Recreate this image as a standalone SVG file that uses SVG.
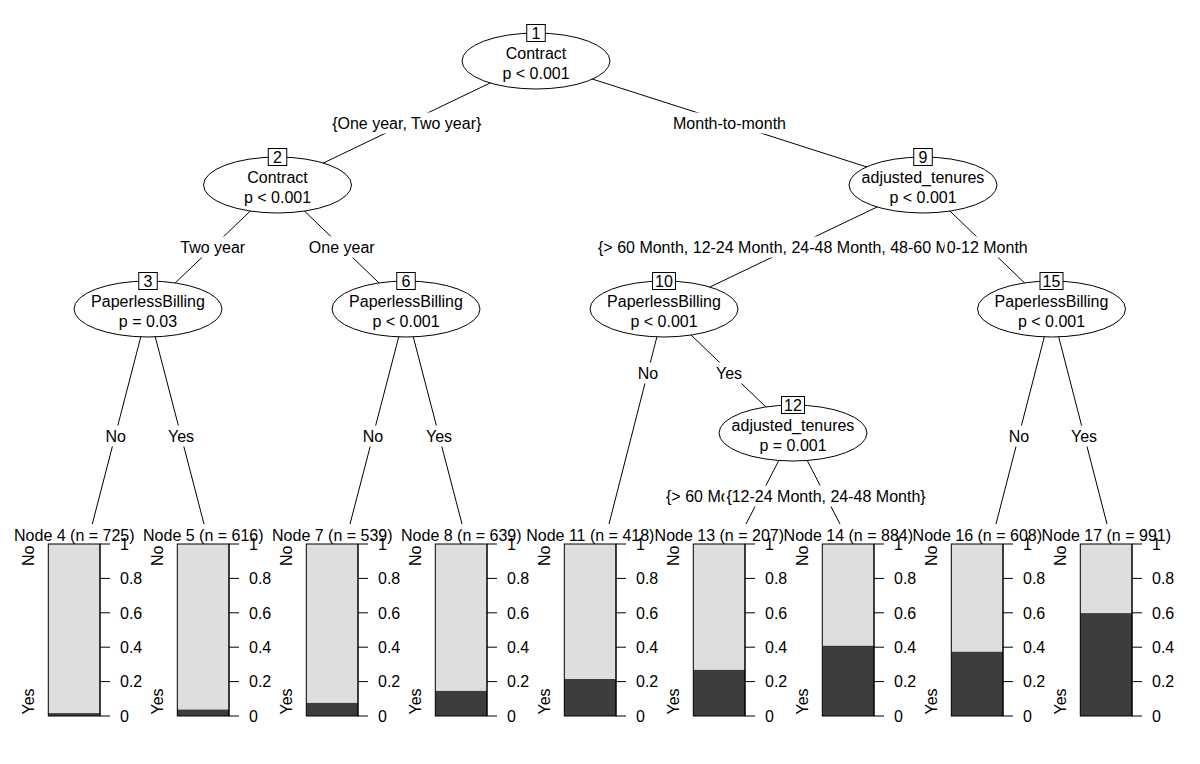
<svg xmlns="http://www.w3.org/2000/svg" xmlns:xlink="http://www.w3.org/1999/xlink" width="1200" height="764" viewBox="0 0 1200 764">
<style>
text{font-family:"Liberation Sans",Arial,Helvetica,sans-serif;font-size:16px;fill:#000}
.m{text-anchor:middle}
.s{text-anchor:start}
.e{text-anchor:end}
.edge{stroke:#000;stroke-width:1;fill:none}
.lb{fill:#fff;stroke:none}
.ell{fill:#fff;stroke:#000;stroke-width:1}
.box{fill:#fff;stroke:#000;stroke-width:1}
.lt{fill:#DEDEDE;stroke:none}
.dk{fill:#3D3D3D;stroke:none}
.fr{fill:none;stroke:#000;stroke-width:1}
.ax{fill:none;stroke:#000;stroke-width:1}
</style>
<defs>
<path id="ticks" class="ax" d="M51.7 544V716M51.7 716h10M51.7 681.6h10M51.7 647.2h10M51.7 612.8h10M51.7 578.4h10M51.7 544h10"/>
</defs>
<rect x="0" y="0" width="1200" height="764" fill="#fff"/>
<g id="connectors">
<line class="edge" x1="536" y1="61" x2="277.5" y2="185"/>
<line class="edge" x1="536" y1="61" x2="923" y2="185"/>
<line class="edge" x1="277.5" y1="185" x2="148" y2="309"/>
<line class="edge" x1="277.5" y1="185" x2="406" y2="309"/>
<line class="edge" x1="923" y1="185" x2="664" y2="309"/>
<line class="edge" x1="923" y1="185" x2="1051.5" y2="309"/>
<line class="edge" x1="148" y1="309" x2="92.3" y2="524"/>
<line class="edge" x1="148" y1="309" x2="204" y2="524"/>
<line class="edge" x1="406" y1="309" x2="350" y2="524"/>
<line class="edge" x1="406" y1="309" x2="462" y2="524"/>
<line class="edge" x1="664" y1="309" x2="609" y2="524"/>
<line class="edge" x1="664" y1="309" x2="793" y2="433"/>
<line class="edge" x1="793" y1="433" x2="746" y2="524"/>
<line class="edge" x1="793" y1="433" x2="840" y2="524"/>
<line class="edge" x1="1051.5" y1="309" x2="996" y2="524"/>
<line class="edge" x1="1051.5" y1="309" x2="1107" y2="524"/>
<g id="edge-labels">
<rect class="lb" x="329" y="112.5" width="155.5" height="21"/>
<text class="m" x="406.75" y="129">{One year, Two year}</text>
<rect class="lb" x="671" y="112.5" width="117" height="21"/>
<text class="m" x="729.5" y="129">Month-to-month</text>
<rect class="lb" x="177.8" y="236.5" width="70" height="21"/>
<text class="m" x="212.75" y="253">Two year</text>
<rect class="lb" x="306.8" y="236.5" width="70" height="21"/>
<text class="m" x="341.75" y="253">One year</text>
<rect class="lb" x="596" y="236.5" width="355" height="21"/>
<text class="s" x="598" y="253">{&gt; 60 Month, 12-24 Month, 24-48 Month, 48-60 M</text>
<rect class="lb" x="944.7" y="236.5" width="85" height="21"/>
<text class="m" x="987.25" y="253">0-12 Month</text>
<rect class="lb" x="103.5" y="425.5" width="24.4" height="21"/>
<text class="m" x="115.7" y="442">No</text>
<rect class="lb" x="165.2" y="425.5" width="31.6" height="21"/>
<text class="m" x="181" y="442">Yes</text>
<rect class="lb" x="360.8" y="425.5" width="24.4" height="21"/>
<text class="m" x="373" y="442">No</text>
<rect class="lb" x="423.2" y="425.5" width="31.6" height="21"/>
<text class="m" x="439" y="442">Yes</text>
<rect class="lb" x="635.8" y="362.5" width="24.4" height="21"/>
<text class="m" x="648" y="379">No</text>
<rect class="lb" x="713.2" y="362.5" width="31.6" height="21"/>
<text class="m" x="729" y="379">Yes</text>
<rect class="lb" x="664" y="485.5" width="62" height="21"/>
<text class="s" x="666" y="502">{&gt; 60 Mo</text>
<rect class="lb" x="724.4" y="485.5" width="203.2" height="21"/>
<text class="m" x="826" y="502">{12-24 Month, 24-48 Month}</text>
<rect class="lb" x="1006.8" y="425.5" width="24.4" height="21"/>
<text class="m" x="1019" y="442">No</text>
<rect class="lb" x="1068.2" y="425.5" width="31.6" height="21"/>
<text class="m" x="1084" y="442">Yes</text>
</g>
</g>
<g id="node1">
<ellipse class="ell" cx="536" cy="61" rx="74" ry="28"/>
<rect class="box" x="526.75" y="24.5" width="18.5" height="17"/>
<text class="m" x="536" y="38.7">1</text>
<text class="m" x="536" y="58.5">Contract</text>
<text class="m" x="536" y="78.5">p &lt; 0.001</text>
</g>
<g id="node2">
<ellipse class="ell" cx="277.5" cy="185" rx="74" ry="28"/>
<rect class="box" x="268.25" y="148.5" width="18.5" height="17"/>
<text class="m" x="277.5" y="162.7">2</text>
<text class="m" x="277.5" y="182.5">Contract</text>
<text class="m" x="277.5" y="202.5">p &lt; 0.001</text>
</g>
<g id="node9">
<ellipse class="ell" cx="923" cy="185" rx="74" ry="28"/>
<rect class="box" x="913.75" y="148.5" width="18.5" height="17"/>
<text class="m" x="923" y="162.7">9</text>
<text class="m" x="923" y="182.5">adjusted_tenures</text>
<text class="m" x="923" y="202.5">p &lt; 0.001</text>
</g>
<g id="node3">
<ellipse class="ell" cx="148" cy="309" rx="74" ry="28"/>
<rect class="box" x="138.75" y="272.5" width="18.5" height="17"/>
<text class="m" x="148" y="286.7">3</text>
<text class="m" x="148" y="306.5">PaperlessBilling</text>
<text class="m" x="148" y="326.5">p = 0.03</text>
</g>
<g id="node6">
<ellipse class="ell" cx="406" cy="309" rx="74" ry="28"/>
<rect class="box" x="396.75" y="272.5" width="18.5" height="17"/>
<text class="m" x="406" y="286.7">6</text>
<text class="m" x="406" y="306.5">PaperlessBilling</text>
<text class="m" x="406" y="326.5">p &lt; 0.001</text>
</g>
<g id="node10">
<ellipse class="ell" cx="664" cy="309" rx="74" ry="28"/>
<rect class="box" x="652.5" y="272.5" width="23" height="17"/>
<text class="m" x="664" y="286.7">10</text>
<text class="m" x="664" y="306.5">PaperlessBilling</text>
<text class="m" x="664" y="326.5">p &lt; 0.001</text>
</g>
<g id="node15">
<ellipse class="ell" cx="1051.5" cy="309" rx="74" ry="28"/>
<rect class="box" x="1040" y="272.5" width="23" height="17"/>
<text class="m" x="1051.5" y="286.7">15</text>
<text class="m" x="1051.5" y="306.5">PaperlessBilling</text>
<text class="m" x="1051.5" y="326.5">p &lt; 0.001</text>
</g>
<g id="node12">
<ellipse class="ell" cx="793" cy="433" rx="74" ry="28"/>
<rect class="box" x="781.5" y="396.5" width="23" height="17"/>
<text class="m" x="793" y="410.7">12</text>
<text class="m" x="793" y="430.5">adjusted_tenures</text>
<text class="m" x="793" y="450.5">p = 0.001</text>
</g>
<g id="node4" transform="translate(48.3,0)">
<text class="m" x="26" y="540.5">Node 4 (n = 725)</text>
<rect class="lt" x="0" y="544" width="51.7" height="172"/>
<rect class="dk" x="0" y="713.1" width="51.7" height="2.9"/>
<rect class="fr" x="0" y="544" width="51.7" height="172"/>
<use xlink:href="#ticks"/>
<text x="71.7" y="721.7">0</text><text x="71.7" y="687.3">0.2</text><text x="71.7" y="652.9">0.4</text><text x="71.7" y="618.5">0.6</text><text x="71.7" y="584.1">0.8</text><text x="71.7" y="549.7">1</text>
<text class="e" transform="translate(-14.5,545.5) rotate(-90)">No</text>
<text class="s" transform="translate(-14.5,714.5) rotate(-90)">Yes</text>
</g>
<g id="node5" transform="translate(177.3,0)">
<text class="m" x="26" y="540.5">Node 5 (n = 616)</text>
<rect class="lt" x="0" y="544" width="51.7" height="172"/>
<rect class="dk" x="0" y="709.6" width="51.7" height="6.4"/>
<rect class="fr" x="0" y="544" width="51.7" height="172"/>
<use xlink:href="#ticks"/>
<text x="71.7" y="721.7">0</text><text x="71.7" y="687.3">0.2</text><text x="71.7" y="652.9">0.4</text><text x="71.7" y="618.5">0.6</text><text x="71.7" y="584.1">0.8</text><text x="71.7" y="549.7">1</text>
<text class="e" transform="translate(-14.5,545.5) rotate(-90)">No</text>
<text class="s" transform="translate(-14.5,714.5) rotate(-90)">Yes</text>
</g>
<g id="node7" transform="translate(306.3,0)">
<text class="m" x="26" y="540.5">Node 7 (n = 539)</text>
<rect class="lt" x="0" y="544" width="51.7" height="172"/>
<rect class="dk" x="0" y="702.9" width="51.7" height="13.1"/>
<rect class="fr" x="0" y="544" width="51.7" height="172"/>
<use xlink:href="#ticks"/>
<text x="71.7" y="721.7">0</text><text x="71.7" y="687.3">0.2</text><text x="71.7" y="652.9">0.4</text><text x="71.7" y="618.5">0.6</text><text x="71.7" y="584.1">0.8</text><text x="71.7" y="549.7">1</text>
<text class="e" transform="translate(-14.5,545.5) rotate(-90)">No</text>
<text class="s" transform="translate(-14.5,714.5) rotate(-90)">Yes</text>
</g>
<g id="node8" transform="translate(435.3,0)">
<text class="m" x="26" y="540.5">Node 8 (n = 639)</text>
<rect class="lt" x="0" y="544" width="51.7" height="172"/>
<rect class="dk" x="0" y="690.9" width="51.7" height="25.1"/>
<rect class="fr" x="0" y="544" width="51.7" height="172"/>
<use xlink:href="#ticks"/>
<text x="71.7" y="721.7">0</text><text x="71.7" y="687.3">0.2</text><text x="71.7" y="652.9">0.4</text><text x="71.7" y="618.5">0.6</text><text x="71.7" y="584.1">0.8</text><text x="71.7" y="549.7">1</text>
<text class="e" transform="translate(-14.5,545.5) rotate(-90)">No</text>
<text class="s" transform="translate(-14.5,714.5) rotate(-90)">Yes</text>
</g>
<g id="node11" transform="translate(564.3,0)">
<text class="m" x="26" y="540.5">Node 11 (n = 418)</text>
<rect class="lt" x="0" y="544" width="51.7" height="172"/>
<rect class="dk" x="0" y="679" width="51.7" height="37"/>
<rect class="fr" x="0" y="544" width="51.7" height="172"/>
<use xlink:href="#ticks"/>
<text x="71.7" y="721.7">0</text><text x="71.7" y="687.3">0.2</text><text x="71.7" y="652.9">0.4</text><text x="71.7" y="618.5">0.6</text><text x="71.7" y="584.1">0.8</text><text x="71.7" y="549.7">1</text>
<text class="e" transform="translate(-14.5,545.5) rotate(-90)">No</text>
<text class="s" transform="translate(-14.5,714.5) rotate(-90)">Yes</text>
</g>
<g id="node13" transform="translate(693.3,0)">
<text class="m" x="26" y="540.5">Node 13 (n = 207)</text>
<rect class="lt" x="0" y="544" width="51.7" height="172"/>
<rect class="dk" x="0" y="669.9" width="51.7" height="46.1"/>
<rect class="fr" x="0" y="544" width="51.7" height="172"/>
<use xlink:href="#ticks"/>
<text x="71.7" y="721.7">0</text><text x="71.7" y="687.3">0.2</text><text x="71.7" y="652.9">0.4</text><text x="71.7" y="618.5">0.6</text><text x="71.7" y="584.1">0.8</text><text x="71.7" y="549.7">1</text>
<text class="e" transform="translate(-14.5,545.5) rotate(-90)">No</text>
<text class="s" transform="translate(-14.5,714.5) rotate(-90)">Yes</text>
</g>
<g id="node14" transform="translate(822.3,0)">
<text class="m" x="26" y="540.5">Node 14 (n = 884)</text>
<rect class="lt" x="0" y="544" width="51.7" height="172"/>
<rect class="dk" x="0" y="645.8" width="51.7" height="70.2"/>
<rect class="fr" x="0" y="544" width="51.7" height="172"/>
<use xlink:href="#ticks"/>
<text x="71.7" y="721.7">0</text><text x="71.7" y="687.3">0.2</text><text x="71.7" y="652.9">0.4</text><text x="71.7" y="618.5">0.6</text><text x="71.7" y="584.1">0.8</text><text x="71.7" y="549.7">1</text>
<text class="e" transform="translate(-14.5,545.5) rotate(-90)">No</text>
<text class="s" transform="translate(-14.5,714.5) rotate(-90)">Yes</text>
</g>
<g id="node16" transform="translate(951.3,0)">
<text class="m" x="26" y="540.5">Node 16 (n = 608)</text>
<rect class="lt" x="0" y="544" width="51.7" height="172"/>
<rect class="dk" x="0" y="651.8" width="51.7" height="64.2"/>
<rect class="fr" x="0" y="544" width="51.7" height="172"/>
<use xlink:href="#ticks"/>
<text x="71.7" y="721.7">0</text><text x="71.7" y="687.3">0.2</text><text x="71.7" y="652.9">0.4</text><text x="71.7" y="618.5">0.6</text><text x="71.7" y="584.1">0.8</text><text x="71.7" y="549.7">1</text>
<text class="e" transform="translate(-14.5,545.5) rotate(-90)">No</text>
<text class="s" transform="translate(-14.5,714.5) rotate(-90)">Yes</text>
</g>
<g id="node17" transform="translate(1080.3,0)">
<text class="m" x="26" y="540.5">Node 17 (n = 991)</text>
<rect class="lt" x="0" y="544" width="51.7" height="172"/>
<rect class="dk" x="0" y="613.1" width="51.7" height="102.9"/>
<rect class="fr" x="0" y="544" width="51.7" height="172"/>
<use xlink:href="#ticks"/>
<text x="71.7" y="721.7">0</text><text x="71.7" y="687.3">0.2</text><text x="71.7" y="652.9">0.4</text><text x="71.7" y="618.5">0.6</text><text x="71.7" y="584.1">0.8</text><text x="71.7" y="549.7">1</text>
<text class="e" transform="translate(-14.5,545.5) rotate(-90)">No</text>
<text class="s" transform="translate(-14.5,714.5) rotate(-90)">Yes</text>
</g>
</svg>
